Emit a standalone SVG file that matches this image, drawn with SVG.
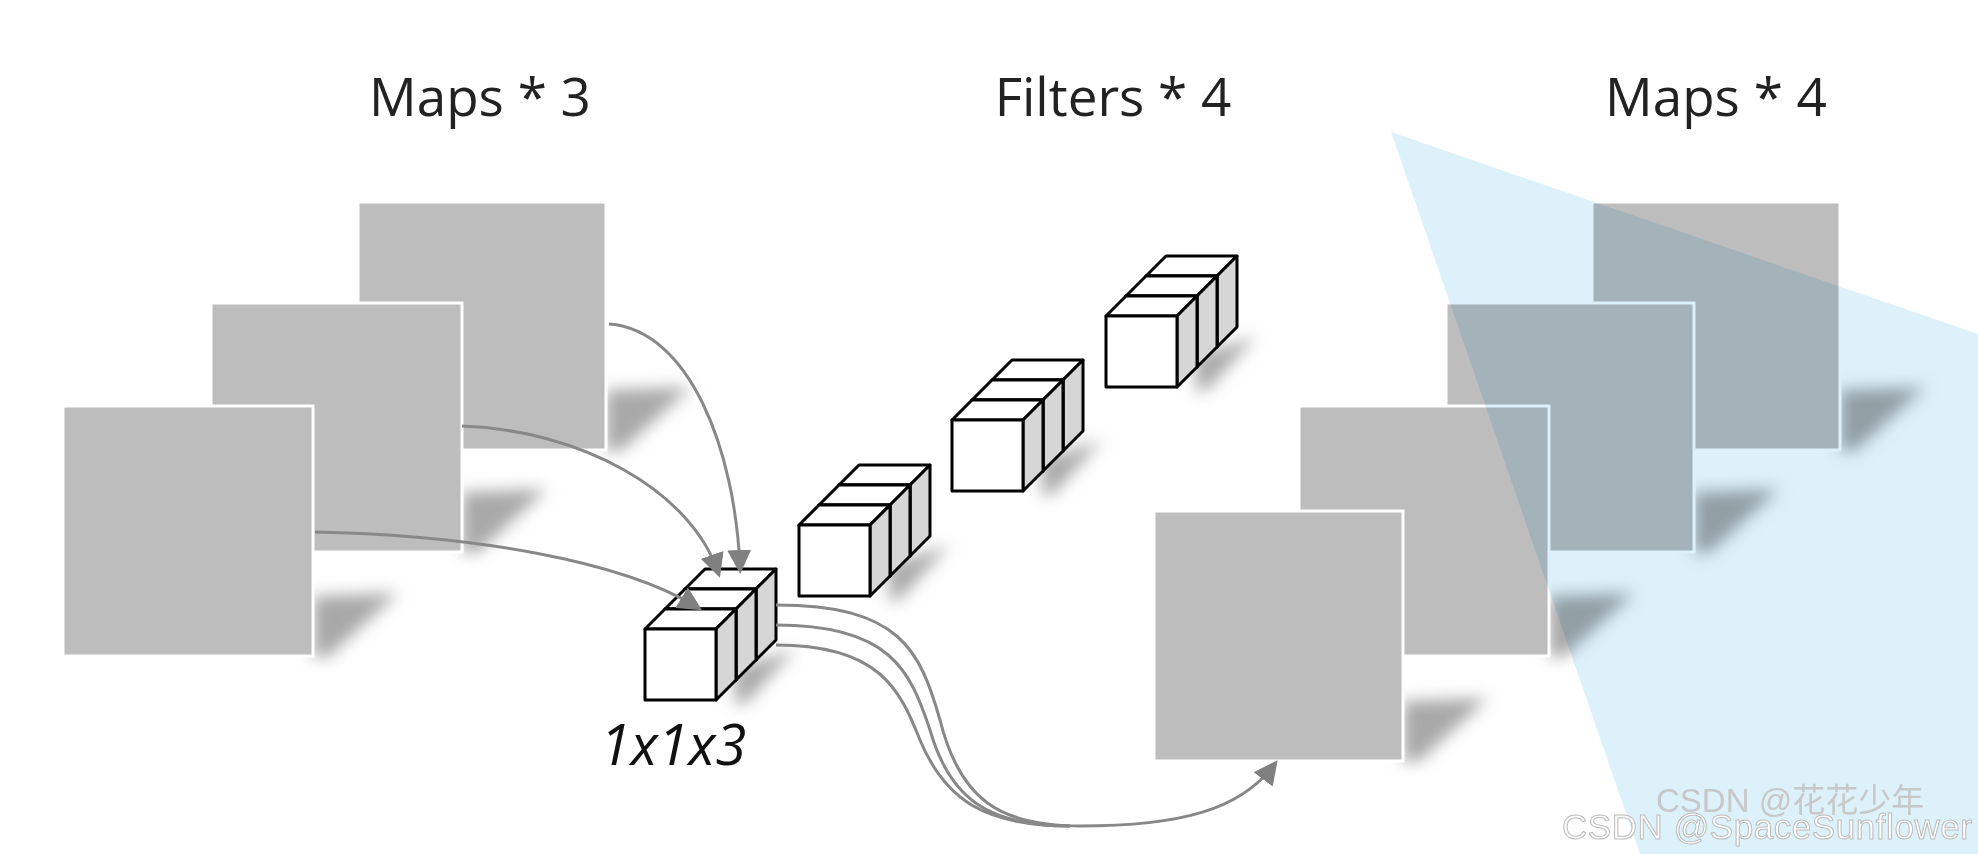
<svg xmlns="http://www.w3.org/2000/svg" width="1978" height="854" viewBox="0 0 1978 854">
<style>
.t{font-family:"Open Sans","Liberation Sans",sans-serif;font-size:53px;fill:#222}
.m{fill:#bdbdbd;stroke:#fff;stroke-width:3}
.sh{fill:#a8a8a8;filter:url(#b)}
.c{stroke:#000;stroke-width:3;stroke-linejoin:round}
.a{fill:none;stroke:#888;stroke-width:3}
</style>
<defs>
<filter id="b" x="-50%" y="-50%" width="200%" height="200%"><feGaussianBlur stdDeviation="8"/></filter>
<marker id="ah" markerWidth="8" markerHeight="8" refX="6" refY="4" orient="auto" markerUnits="strokeWidth"><path d="M0,0 L8,4 L0,8 z" fill="#808080"/></marker>
<g id="cube">
<path class="c" d="M0,0 L20,-20 L91,-20 L71,0 z" fill="#fff"/>
<path class="c" d="M71,0 L91,-20 L91,51 L71,71 z" fill="#d6d6d6"/>
<rect class="c" x="0" y="0" width="71" height="71" fill="#fff"/>
</g>
<g id="stack">
<path class="sh" d="M90,40 L150,20 L100,75 L90,75 z"/>
<use href="#cube" x="40" y="-40"/>
<use href="#cube" x="20" y="-20"/>
<use href="#cube" x="0" y="0"/>
</g>
<path id="shadow" class="sh" d="M0,-55 L85,-58 L15,6 L0,6 z"/>
</defs>
<rect width="1978" height="854" fill="#fff"/>
<text class="t" x="480" y="116" text-anchor="middle">Maps * 3</text>
<text class="t" x="1113" y="116" text-anchor="middle">Filters * 4</text>
<text class="t" x="1716" y="116" text-anchor="middle">Maps * 4</text>
<g id="input-maps">
<use href="#shadow" x="606" y="445"/>
<use href="#shadow" x="462" y="547"/>
<use href="#shadow" x="313" y="651"/>
<rect class="m" x="358" y="202" width="248" height="248"/>
<rect class="m" x="211" y="303" width="251" height="249"/>
<rect class="m" x="63" y="406" width="250" height="250"/>
</g>
<g id="output-maps">
<use href="#shadow" x="1840" y="445"/>
<use href="#shadow" x="1694" y="547"/>
<use href="#shadow" x="1549" y="651"/>
<use href="#shadow" x="1403" y="756"/>
<rect class="m" x="1592" y="202" width="248" height="248"/>
<rect class="m" x="1446" y="303" width="248" height="249"/>
<rect class="m" x="1299" y="406" width="250" height="250"/>
<rect class="m" x="1154" y="511" width="249" height="250"/>
</g>
<path id="highlight" d="M1391,132 L1978,334 L1978,854 L1640,854 z" fill="#dcf1fb" style="mix-blend-mode:multiply" opacity="0.95"/>
<g id="filters">
<use href="#stack" x="645" y="629"/>
<use href="#stack" x="799" y="525"/>
<use href="#stack" x="952" y="420"/>
<use href="#stack" x="1106" y="316"/>
</g>
<g id="connectors">
<path class="a" d="M609,324 C690,330 735,450 740,568" marker-end="url(#ah)"/>
<path class="a" d="M462,426 C580,430 690,490 718,572" marker-end="url(#ah)"/>
<path class="a" d="M315,532 C470,535 620,560 697,607" marker-end="url(#ah)"/>
<path class="a" d="M776,605 C900,605 920,650 940,720 C960,800 1000,826 1080,826 C1180,826 1240,810 1274,765" marker-end="url(#ah)"/>
<path class="a" d="M776,625 C890,625 910,670 930,730 C950,800 990,826 1070,826"/>
<path class="a" d="M776,645 C880,645 900,690 920,740 C945,800 985,826 1070,826"/>
</g>
<text x="600" y="765" font-family="'Open Sans','Liberation Sans',sans-serif" font-size="56" font-style="italic" fill="#111">1x1x3</text>
<text x="1656" y="812" font-family="'Liberation Sans','Noto Sans CJK SC',sans-serif" font-size="33" fill="#c8c8c8">CSDN @花花少年</text>
<text x="1562" y="839" font-family="'Liberation Sans',sans-serif" font-size="35" fill="#fff" stroke="#bbb" stroke-width="1" textLength="410">CSDN @SpaceSunflower</text>
</svg>
